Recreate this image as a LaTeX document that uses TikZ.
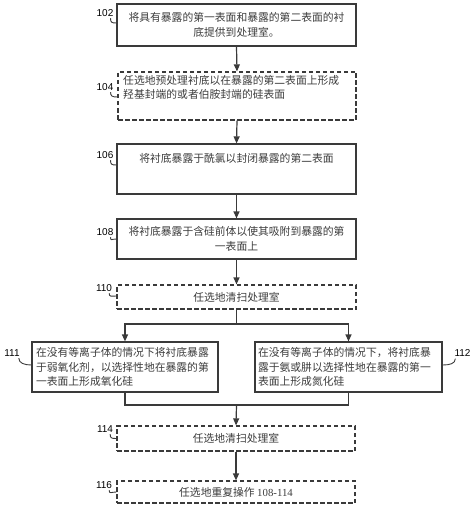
\documentclass[tikz,border=0pt]{standalone}
\usepackage{fontspec}
\setmainfont{Liberation Serif}
\newfontfamily\cjk{Noto Sans CJK SC}
\newfontfamily\labfont{Liberation Sans}
\usetikzlibrary{arrows.meta,calc}
\definecolor{ln}{HTML}{3A3A3A}
\definecolor{tx}{HTML}{3C3C3C}
\begin{document}
\begin{tikzpicture}[x=1pt,y=-1pt,
  box/.style={draw=ln, line width=1.2pt, inner sep=0pt, text=tx,
    font=\cjk\fontsize{10.8}{14.5}\selectfont, align=center},
  dbox/.style={box, dash pattern=on 4.5pt off 2.5pt},
  txt/.style={text=tx, font=\cjk\fontsize{10.8}{14.5}\selectfont, inner sep=0pt},
  num/.style={font=\labfont\fontsize{10}{10}\selectfont, text=black, inner sep=0pt},
  arr/.style={draw=ln, line width=1.2pt, -{Triangle[length=7pt,width=6pt]}},
  conn/.style={draw=ln, line width=1.2pt},
  lead/.style={draw=ln, line width=0.9pt}]
\useasboundingbox (0,0) rectangle (474,508);

% boxes
\node[box, minimum width=239pt, minimum height=42pt] (b102) at (236.5,25)
  {将具有暴露的第一表面和暴露的第二表面的衬\\底提供到处理室。};
\node[dbox, minimum width=238pt, minimum height=48pt] (b104) at (237,96) {};
\node[txt, align=left, anchor=west] (t104) at (123,87.5)
  {任选地预处理衬底以在暴露的第二表面上形成\\羟基封端的或者伯胺封端的硅表面};
\node[box, minimum width=239pt, minimum height=50pt] (b106) at (236.5,169) {};
\node[txt] (t106) at (236.5,158) {将衬底暴露于酰氯以封闭暴露的第二表面};
\node[box, minimum width=239pt, minimum height=40pt] (b108) at (236.5,239)
  {将衬底暴露于含硅前体以使其吸附到暴露的第\\一表面上};
\node[dbox, minimum width=239pt, minimum height=24pt] (b110) at (236.5,297)
  {任选地清扫处理室};
\node[box, minimum width=186pt, minimum height=50pt, align=left, text width=178pt] (b111) at (125,367)
  {在没有等离子体的情况下将衬底暴露\\于弱氧化剂，以选择性地在暴露的第\\一表面上形成氧化硅};
\node[box, minimum width=187pt, minimum height=50pt, align=left, text width=181pt] (b112) at (348.5,367)
  {在没有等离子体的情况下，将衬底暴\\露于氨或肼以选择性地在暴露的第一\\表面上形成氮化硅};
\node[dbox, minimum width=238pt, minimum height=25pt] (b114) at (236,438.5)
  {任选地清扫处理室};
\node[dbox, minimum width=238pt, minimum height=22pt] (b116) at (236,492)
  {任选地重复操作 {\rmfamily\fontsize{10.8}{12}\selectfont 108-114}};

% reference numerals
\node[num] (l102) at (105,13) {102};
\node[num] (l104) at (105,87) {104};
\node[num] (l106) at (105,155) {106};
\node[num] (l108) at (105,232) {108};
\node[num] (l110) at (104,288) {110};
\node[num] (l111) at (12,353) {111};
\node[num] (l112) at (462.5,353.5) {112};
\node[num] (l114) at (105,429) {114};
\node[num] (l116) at (104,485) {116};

% lead lines
\draw[lead] ($(l102.south east)+(-3,1.5)$) .. controls +(0,4) and +(-5,0) .. ($(b102.west)+(0,-2)$);
\draw[lead] ($(l104.south east)+(-3,1.5)$) .. controls +(0,4) and +(-5,0) .. ($(b104.west)+(0,1)$);
\draw[lead] ($(l106.south east)+(-3,1.5)$) .. controls +(0,4) and +(-5,0) .. ($(b106.west)+(0,-4)$);
\draw[lead] ($(l108.south east)+(-3,1.5)$) .. controls +(0,4) and +(-5,0) .. ($(b108.west)+(0,0)$);
\draw[lead] ($(l110.south east)+(-3,1.5)$) .. controls +(0,4) and +(-5,0) .. ($(b110.west)+(0,-1)$);
\draw[lead] ($(l111.south east)+(-1,1.5)$) .. controls +(0,5) and +(-7,0) .. ($(b111.west)+(0,-2)$);
\draw[lead] ($(b112.east)+(0,-2)$) .. controls +(7,0) and +(0,5) .. ($(l112.south west)+(1,1.5)$);
\draw[lead] ($(l114.south east)+(-3,1.5)$) .. controls +(0,4) and +(-5,0) .. ($(b114.west)+(0,0)$);
\draw[lead] ($(l116.south east)+(-3,1.5)$) .. controls +(0,4) and +(-5,0) .. ($(b116.west)+(0,0)$);

% connectors
\draw[arr] (b102.south) -- (b104.north);
\draw[arr] (b104.south) -- (b106.north);
\draw[arr] (b106.south) -- (b108.north);
\draw[arr] (b108.south) -- (b110.north);
\coordinate (split) at (236.5,324);
\coordinate (merge) at (236.5,405);
\draw[conn] (b110.south) -- (split);
\draw[arr] (split) -| (b111.north);
\draw[arr] (split) -| (b112.north);
\draw[conn] (b111.south) |- (merge);
\draw[conn] (b112.south) |- (merge);
\draw[arr] (merge) -- (b114.north);
\draw[arr] (b114.south) -- (b116.north);
\end{tikzpicture}
\end{document}
